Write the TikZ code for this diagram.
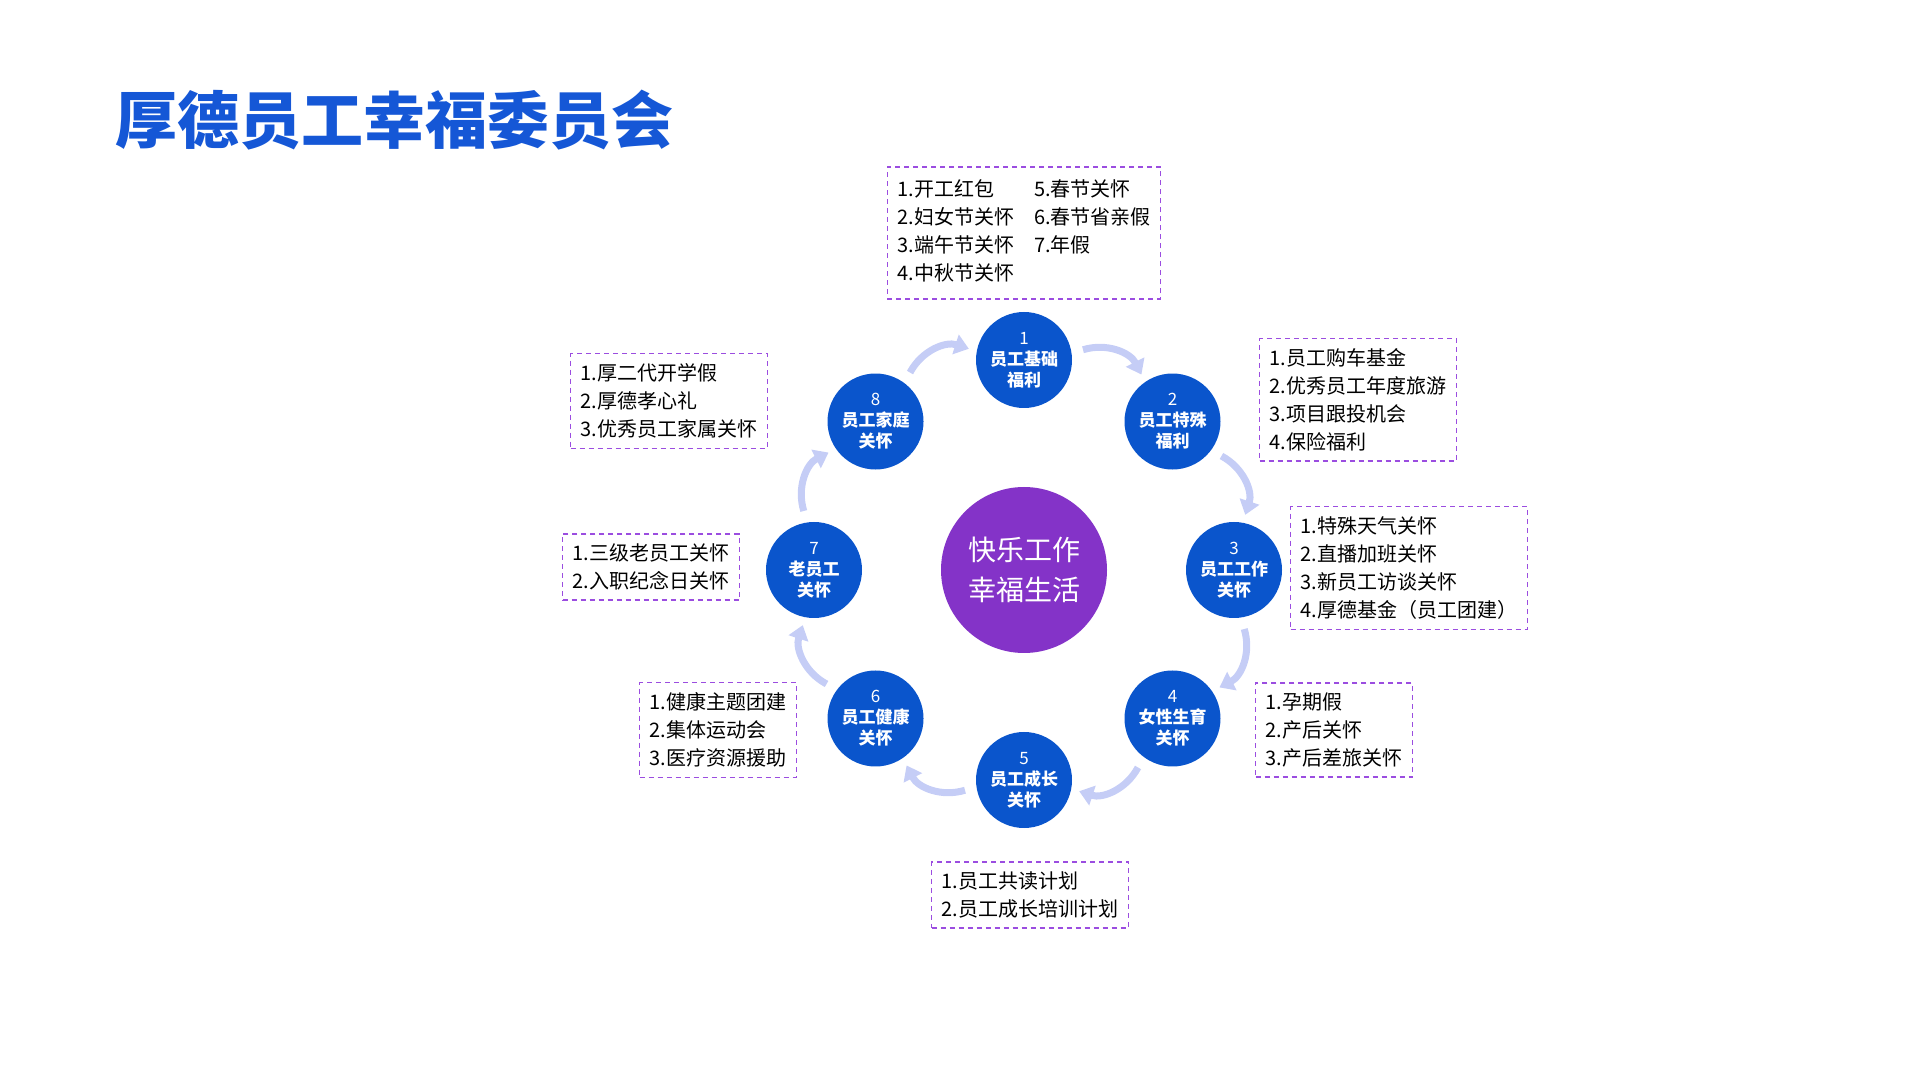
\documentclass[tikz,border=0pt]{standalone}
\usepackage{fontspec}
\setmainfont{Noto Sans CJK SC}
\usetikzlibrary{arrows.meta,calc}
\definecolor{tblue}{HTML}{1557D6}
\definecolor{nblue}{HTML}{0A55CC}
\definecolor{cpurp}{HTML}{8433C8}
\definecolor{arr}{HTML}{C5CDF6}
\definecolor{dpurp}{HTML}{9B4DE0}
\begin{document}
\begin{tikzpicture}[x=1pt,y=1pt,
  nd/.style={circle,fill=nblue,minimum size=96pt,inner sep=0pt,text=white,align=center,font=\fontsize{17}{21}\selectfont\bfseries},
  bx/.style={draw=dpurp,line width=1.6pt,dash pattern=on 5pt off 4pt,align=left,inner sep=10pt,font=\fontsize{20}{28}\selectfont,anchor=center},
  ar/.style={draw=arr,line width=7pt,-{Triangle[width=20pt,length=14pt]},bend left=40}]
\useasboundingbox (0,0) rectangle (1920,1080);
\node[anchor=west,text=tblue,font=\fontsize{62}{70}\selectfont\bfseries] (t) at (112,960) {厚德员工幸福委员会};
\coordinate (c) at (1024,510);
\node[circle,fill=cpurp,minimum size=166pt,text=white,align=center,font=\fontsize{28}{40}\selectfont] (m) at (c) {快乐工作\\幸福生活};
\node[nd] (n1) at ($(c)+(90:210)$) {\mdseries 1\\员工基础\\福利};
\node[nd] (n2) at ($(c)+(45:210)$) {\mdseries 2\\员工特殊\\福利};
\node[nd] (n3) at ($(c)+(0:210)$) {\mdseries 3\\员工工作\\关怀};
\node[nd] (n4) at ($(c)+(-45:210)$) {\mdseries 4\\女性生育\\关怀};
\node[nd] (n5) at ($(c)+(-90:210)$) {\mdseries 5\\员工成长\\关怀};
\node[nd] (n6) at ($(c)+(-135:210)$) {\mdseries 6\\员工健康\\关怀};
\node[nd] (n7) at ($(c)+(180:210)$) {\mdseries 7\\老员工\\关怀};
\node[nd] (n8) at ($(c)+(135:210)$) {\mdseries 8\\员工家庭\\关怀};
\foreach \i/\a in {1/90,2/45,3/0,4/-45,5/-90,6/-135,7/-180,8/-225}{
  \coordinate (s\i) at ($(c)+(\a-15:228)$);
  \coordinate (e\i) at ($(c)+(\a-31:228)$);
  \draw[ar] (s\i) to (e\i);
}
\node[bx] (b1) at (1024,847) {\begin{tabular}{@{}l@{\hspace{20pt}}l@{}}1.开工红包&5.春节关怀\\2.妇女节关怀&6.春节省亲假\\3.端午节关怀&7.年假\\4.中秋节关怀&\end{tabular}};
\node[bx] (b2) at (1358,680) {1.员工购车基金\\2.优秀员工年度旅游\\3.项目跟投机会\\4.保险福利};
\node[bx] (b3) at (1409,512) {1.特殊天气关怀\\2.直播加班关怀\\3.新员工访谈关怀\\4.厚德基金（员工团建）};
\node[bx] (b4) at (1334,350) {1.孕期假\\2.产后关怀\\3.产后差旅关怀};
\node[bx] (b5) at (1030,185) {1.员工共读计划\\2.员工成长培训计划};
\node[bx] (b6) at (718,350) {1.健康主题团建\\2.集体运动会\\3.医疗资源援助};
\node[bx] (b7) at (651,513) {1.三级老员工关怀\\2.入职纪念日关怀};
\node[bx] (b8) at (669,679) {1.厚二代开学假\\2.厚德孝心礼\\3.优秀员工家属关怀};
\end{tikzpicture}
\end{document}
